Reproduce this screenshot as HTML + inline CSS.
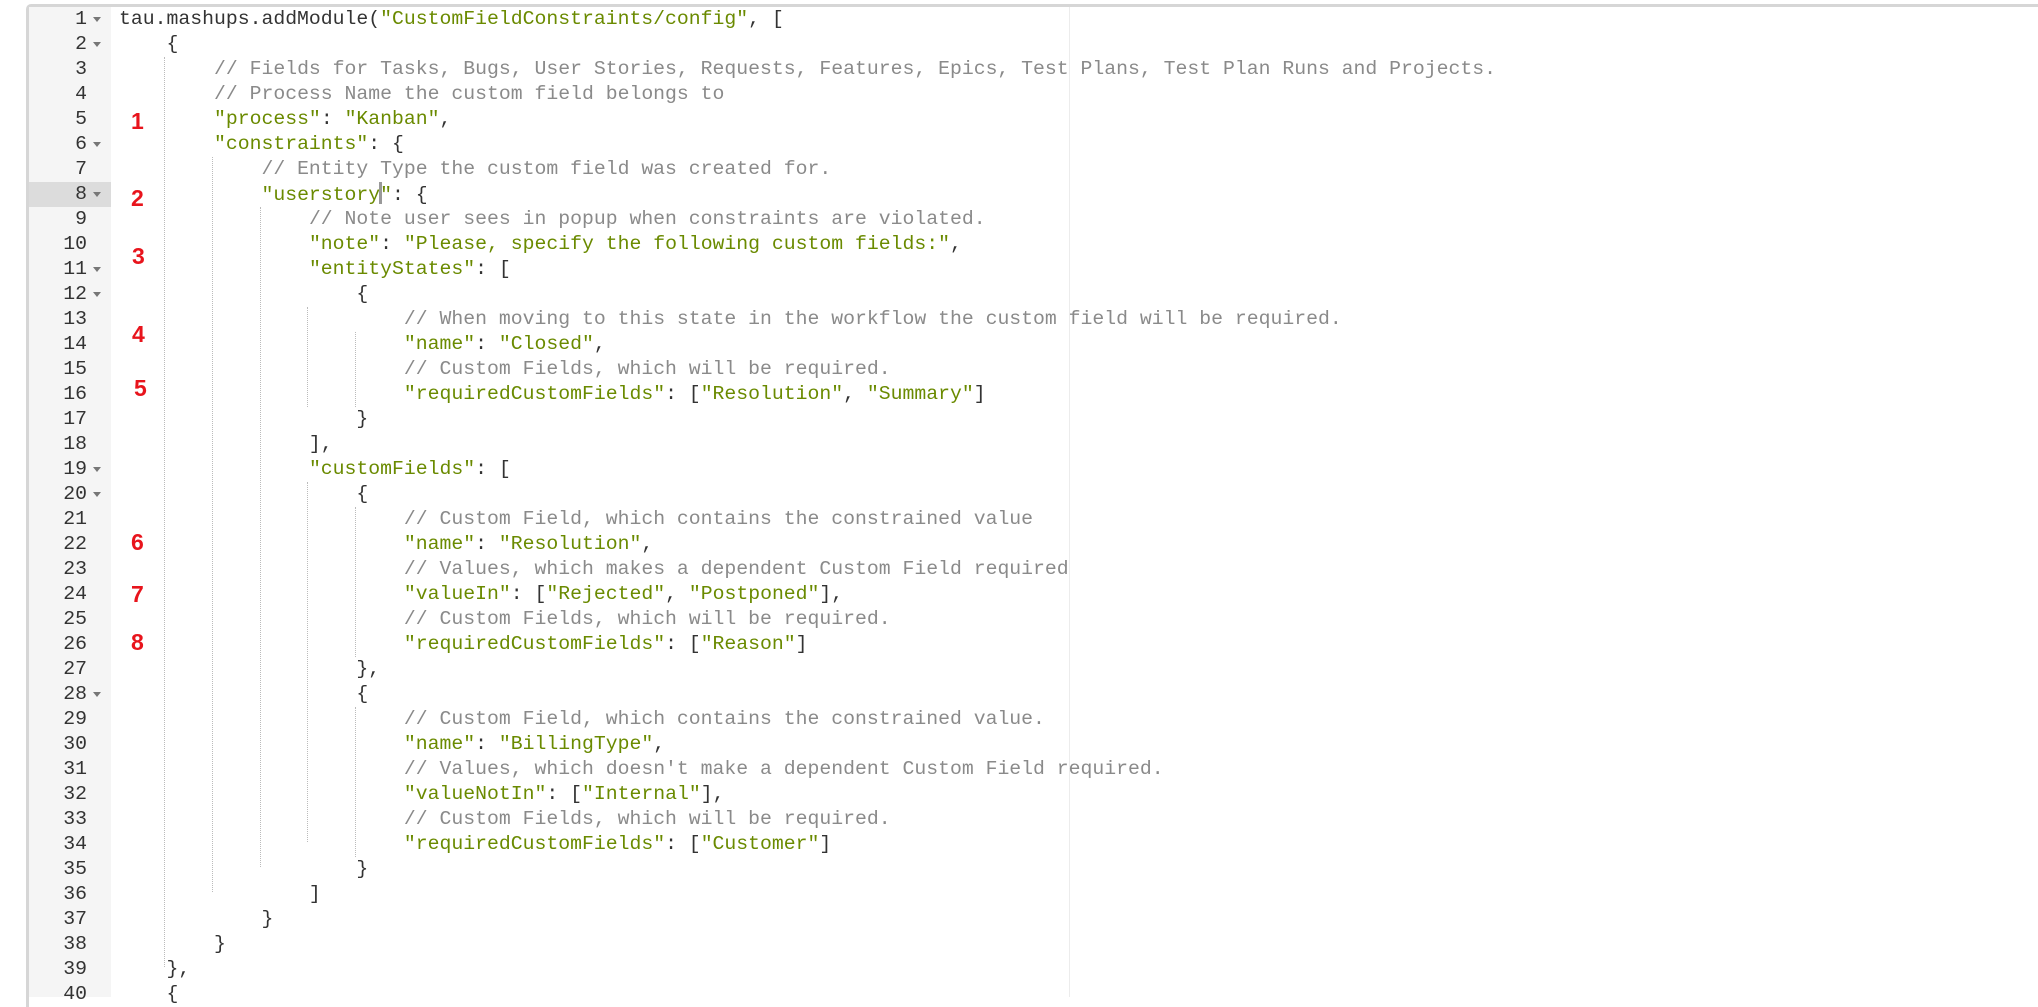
<!DOCTYPE html>
<html><head><meta charset="utf-8"><style>
html,body{margin:0;padding:0;width:2038px;height:989px;overflow:hidden;background:#fff;}
.ed{position:absolute;left:26px;top:4px;width:2020px;height:1000px;border-top:3px solid #d6d6d6;border-left:3px solid #d6d6d6;border-top-left-radius:5px;}
.gut{position:absolute;left:29px;top:7px;width:82px;height:990px;background:#f5f5f5;}
.act{position:absolute;left:29px;top:182px;width:82px;height:25px;background:#dcdcdc;}
.pm{position:absolute;left:1069px;top:7px;width:1px;height:990px;background:#ececec;}
.ln{position:absolute;left:29px;width:58px;text-align:right;font:19.8px/25px "Liberation Mono",monospace;color:#333;}
.fd{position:absolute;left:93px;width:0;height:0;border-left:4px solid transparent;border-right:4px solid transparent;border-top:5px solid #777;}
.cd{position:absolute;left:119px;white-space:pre;font:19.8px/25px "Liberation Mono",monospace;color:#333;}
.s{color:#6a8a00}.c{color:#8a8a8a}
.g{position:absolute;width:0;border-left:1px dotted #bbb;}
.r{position:absolute;font:bold 23px/25px "Liberation Sans",sans-serif;color:#e8141c;}
.cur{display:inline-block;width:3px;height:22px;background:#999;vertical-align:-4px;margin:0 -1.5px;}
</style></head><body>
<div class="ed"></div><div class="gut"></div><div class="act"></div><div class="pm"></div>
<div id="L"></div>
<div class="g" style="left:164px;top:57px;height:910px"></div>
<div class="g" style="left:212px;top:157px;height:735px"></div>
<div class="g" style="left:260px;top:207px;height:660px"></div>
<div class="g" style="left:307px;top:307px;height:100px"></div>
<div class="g" style="left:307px;top:482px;height:360px"></div>
<div class="g" style="left:355px;top:332px;height:75px"></div>
<div class="g" style="left:355px;top:507px;height:150px"></div>
<div class="g" style="left:355px;top:707px;height:150px"></div>
<div class="r" style="left:131px;top:109px">1</div>
<div class="r" style="left:131px;top:186px">2</div>
<div class="r" style="left:132px;top:244px">3</div>
<div class="r" style="left:132px;top:322px">4</div>
<div class="r" style="left:134px;top:376px">5</div>
<div class="r" style="left:131px;top:530px">6</div>
<div class="r" style="left:131px;top:582px">7</div>
<div class="r" style="left:131px;top:630px">8</div>
<script>
var lines=[
'tau.mashups.addModule(<span class="s">"CustomFieldConstraints/config"</span>, [',
'    {',
'        <span class="c">// Fields for Tasks, Bugs, User Stories, Requests, Features, Epics, Test Plans, Test Plan Runs and Projects.</span>',
'        <span class="c">// Process Name the custom field belongs to</span>',
'        <span class="s">"process"</span>: <span class="s">"Kanban"</span>,',
'        <span class="s">"constraints"</span>: {',
'            <span class="c">// Entity Type the custom field was created for.</span>',
'            <span class="s">"userstory</span><span class="cur"></span><span class="s">"</span>: {',
'                <span class="c">// Note user sees in popup when constraints are violated.</span>',
'                <span class="s">"note"</span>: <span class="s">"Please, specify the following custom fields:"</span>,',
'                <span class="s">"entityStates"</span>: [',
'                    {',
'                        <span class="c">// When moving to this state in the workflow the custom field will be required.</span>',
'                        <span class="s">"name"</span>: <span class="s">"Closed"</span>,',
'                        <span class="c">// Custom Fields, which will be required.</span>',
'                        <span class="s">"requiredCustomFields"</span>: [<span class="s">"Resolution"</span>, <span class="s">"Summary"</span>]',
'                    }',
'                ],',
'                <span class="s">"customFields"</span>: [',
'                    {',
'                        <span class="c">// Custom Field, which contains the constrained value</span>',
'                        <span class="s">"name"</span>: <span class="s">"Resolution"</span>,',
'                        <span class="c">// Values, which makes a dependent Custom Field required</span>',
'                        <span class="s">"valueIn"</span>: [<span class="s">"Rejected"</span>, <span class="s">"Postponed"</span>],',
'                        <span class="c">// Custom Fields, which will be required.</span>',
'                        <span class="s">"requiredCustomFields"</span>: [<span class="s">"Reason"</span>]',
'                    },',
'                    {',
'                        <span class="c">// Custom Field, which contains the constrained value.</span>',
'                        <span class="s">"name"</span>: <span class="s">"BillingType"</span>,',
'                        <span class="c">// Values, which doesn\'t make a dependent Custom Field required.</span>',
'                        <span class="s">"valueNotIn"</span>: [<span class="s">"Internal"</span>],',
'                        <span class="c">// Custom Fields, which will be required.</span>',
'                        <span class="s">"requiredCustomFields"</span>: [<span class="s">"Customer"</span>]',
'                    }',
'                ]',
'            }',
'        }',
'    },',
'    {'
];
var folds=[1,2,6,8,11,12,19,20,28];
var h='';
for(var i=0;i<lines.length;i++){
 var t=7+25*i;
 h+='<div class="ln" style="top:'+t+'px">'+(i+1)+'</div>';
 if(folds.indexOf(i+1)>=0)h+='<div class="fd" style="top:'+(t+10)+'px"></div>';
 h+='<div class="cd" style="top:'+t+'px">'+lines[i]+'</div>';
}
document.getElementById('L').innerHTML=h;
</script>
</body></html>
